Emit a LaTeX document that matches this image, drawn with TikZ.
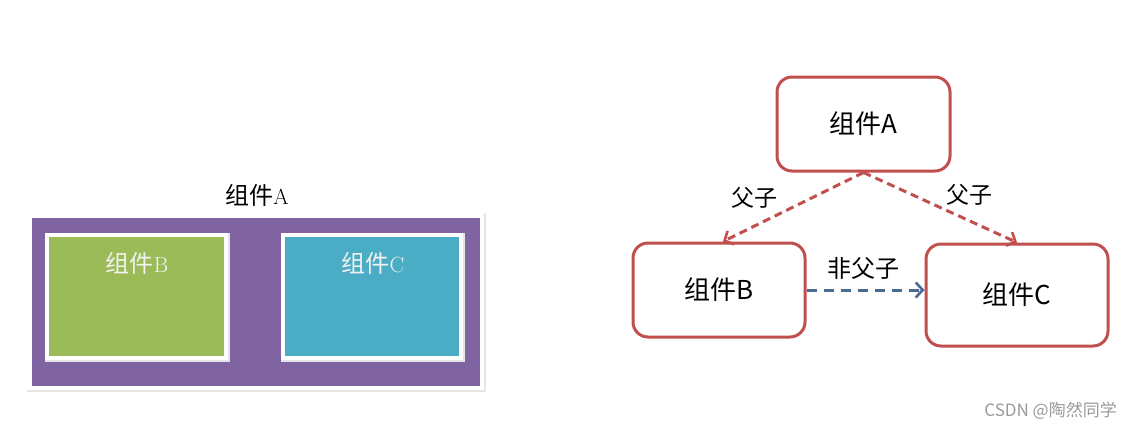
\documentclass[tikz,border=0pt]{standalone}
\usepackage{fontspec}
\newfontfamily\cjk{Noto Sans CJK SC}
\usetikzlibrary{arrows.meta}
\definecolor{purp}{HTML}{8064A2}
\definecolor{grn}{HTML}{9BBB59}
\definecolor{cyn}{HTML}{4BACC6}
\definecolor{redc}{HTML}{C0504D}
\definecolor{bluec}{HTML}{4A6A94}
\definecolor{wm}{HTML}{9A9A9A}
\tikzset{
  frame/.style={fill=white, inner sep=0pt},
  shadow/.style={fill=black!10, inner sep=0pt},
  inner/.style={inner sep=0pt},
  lbl/.style={font=\cjk\fontsize{23}{27}\selectfont, inner sep=0pt},
  llbl/.style={font=\cjk\fontsize{24}{28}\selectfont, inner sep=0pt},
  rbox/.style={draw=redc, line width=3pt, rounded corners=15pt, fill=white, inner sep=0pt, font=\cjk\fontsize{26}{30}\selectfont},
  pc/.style={draw=redc, line width=3pt, dash pattern=on 8pt off 5pt, -{Straight Barb[length=7pt,width=15pt,line width=2.6pt]}},
  npc/.style={draw=bluec, line width=3pt, dash pattern=on 10pt off 7pt, -{Straight Barb[length=7pt,width=15pt,line width=2.6pt]}}
}
\begin{document}
\begin{tikzpicture}[x=1pt,y=-1pt]
\useasboundingbox (0,0) rectangle (1132,429);
% left composite
\node[shadow, minimum width=459pt, minimum height=179pt] (Ash) at (256.5,302.5) {};
\node[frame, minimum width=457pt, minimum height=177pt] (Aframe) at (255.5,301.5) {};
\node[inner, fill=purp, minimum width=448pt, minimum height=168pt] (Abox) at (255.5,301.5) {};
\node[llbl] (Atitle) at (257,195) {组件{\rmfamily\fontsize{22}{26}\selectfont A}};
\node[shadow, minimum width=185pt, minimum height=129pt] (Bsh) at (137.5,297.5) {};
\node[frame, minimum width=183pt, minimum height=127pt] (Bframe) at (136.5,296.5) {};
\node[inner, fill=grn, minimum width=175pt, minimum height=119pt] (Bbox) at (136.5,296.5) {};
\node[llbl, text=white!95!black] (Btext) at (137,263) {组件{\rmfamily\fontsize{22}{26}\selectfont B}};
\node[shadow, minimum width=184pt, minimum height=129pt] (Csh) at (373,297.5) {};
\node[frame, minimum width=182pt, minimum height=127pt] (Cframe) at (372,296.5) {};
\node[inner, fill=cyn, minimum width=174pt, minimum height=119pt] (Cbox) at (372,296.5) {};
\node[llbl, text=white!95!black] (Ctext) at (373,263) {组件{\rmfamily\fontsize{22}{26}\selectfont C}};
% right graph
\node[rbox, minimum width=173pt, minimum height=94pt] (RA) at (863.5,124) {组件A};
\node[rbox, minimum width=172pt, minimum height=94pt] (RB) at (719,290) {组件B};
\node[rbox, minimum width=182pt, minimum height=102pt] (RC) at (1017,295) {组件C};
\draw[pc] (RA.south) -- ([xshift=4pt]RB.north);
\draw[pc] (RA.south) -- (RC.north);
\draw[npc] (RB.east) -- (RB.east -| RC.west);
\node[lbl] (l1) at (754,198) {父子};
\node[lbl] (l2) at (969,195) {父子};
\node[font=\cjk\fontsize{24}{28}\selectfont, inner sep=0pt] (l3) at (863,268) {非父子};
\node[font=\cjk\fontsize{17}{20}\selectfont, text=wm, inner sep=0pt, anchor=east] (wmk) at (1117,411) {CSDN @陶然同学};
\end{tikzpicture}
\end{document}
